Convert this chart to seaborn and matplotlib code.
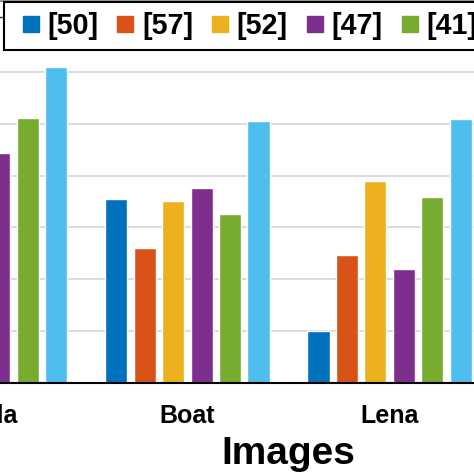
import matplotlib
matplotlib.use("Agg")
import matplotlib.pyplot as plt
import seaborn as sns
import pandas as pd
from matplotlib.lines import Line2D

# ---- data (values in grid-step units; y-axis is cropped in the reference) ----
images = ["Zelda", "Boat", "Lena", "Peppers"]
methods = ["[50]", "[57]", "[52]", "[47]", "[41]", "Proposed"]
m50 = [3.00, 3.54, 1.00, 2.80]
m57 = [2.40, 2.60, 2.47, 2.50]
m52 = [3.60, 3.52, 3.90, 3.40]
m47 = [4.43, 3.76, 2.20, 3.50]
m41 = [5.12, 3.26, 3.59, 3.80]
prop = [6.11, 5.06, 5.09, 5.30]
colors = ["#0072BD", "#D95319", "#EDB120", "#7E2F8E", "#77AC30", "#4DBEEE"]

series = [m50, m57, m52, m47, m41, prop]
rows = []
for meth, vals in zip(methods, series):
    for img, v in zip(images, vals):
        rows.append({"Image": img, "Method": meth, "Value": v})
df = pd.DataFrame(rows)

sns.set_theme(style="white")
plt.rcParams["font.family"] = ["Liberation Sans", "DejaVu Sans"]
plt.rcParams["font.weight"] = "bold"
plt.rcParams["text.color"] = "black"
plt.rcParams["axes.labelcolor"] = "black"
plt.rcParams["xtick.color"] = "black"
plt.rcParams["ytick.color"] = "black"

W = 474.0
fig = plt.figure(figsize=(4.74, 4.74), dpi=100)
ax = fig.add_axes([-116 / W, (W - 382.5) / W, 809 / W, 365.5 / W])

sns.barplot(data=df, x="Image", y="Value", hue="Method", hue_order=methods,
            order=images, palette=colors, width=0.844, gap=0.225,
            saturation=1, ax=ax, legend=False)

ax.set_xlim(-0.5, 3.5)
ax.set_ylim(0, 7.07)
ax.set_yticks(range(0, 7))
ax.set_yticklabels([])
ax.yaxis.grid(True, color="#D9D9D9", lw=1.3)
ax.xaxis.grid(False)
ax.set_axisbelow(True)
ax.tick_params(axis="x", length=0, pad=15.5, labelsize=18, labelcolor="black")
ax.tick_params(axis="y", length=0)
for lab in ax.get_xticklabels():
    lab.set_fontweight("bold")
ax.set_xlabel("Images", fontsize=28, fontweight="bold", labelpad=6,
              color="black")
ax.set_ylabel("")

ax.spines["bottom"].set_color("black")
ax.spines["bottom"].set_linewidth(1.5)
ax.spines["top"].set_color("#333333")
ax.spines["top"].set_linewidth(1.0)
ax.spines["left"].set_visible(False)
ax.spines["right"].set_visible(False)

handles = [Line2D([], [], ls="none", marker="s", markersize=11.5,
                  markerfacecolor=c, markeredgecolor=c) for c in colors]
leg = fig.legend(handles, methods, loc="upper left",
                 bbox_to_anchor=(4 / W, 1 - 2 / W), ncol=6, frameon=True,
                 fancybox=False, edgecolor="black", framealpha=1,
                 borderaxespad=0, borderpad=0.35, handlelength=1.15,
                 handletextpad=0.0, columnspacing=0.37,
                 prop={"weight": "bold", "size": 20.7})
leg.get_frame().set_linewidth(1.5)
for t in leg.get_texts():
    t.set_color("black")

fig.add_artist(Line2D([0, 1], [1 - 1 / W, 1 - 1 / W], transform=fig.transFigure,
                      color="#9a9a9a", lw=1.5))

fig.savefig("out.png", dpi=100)
